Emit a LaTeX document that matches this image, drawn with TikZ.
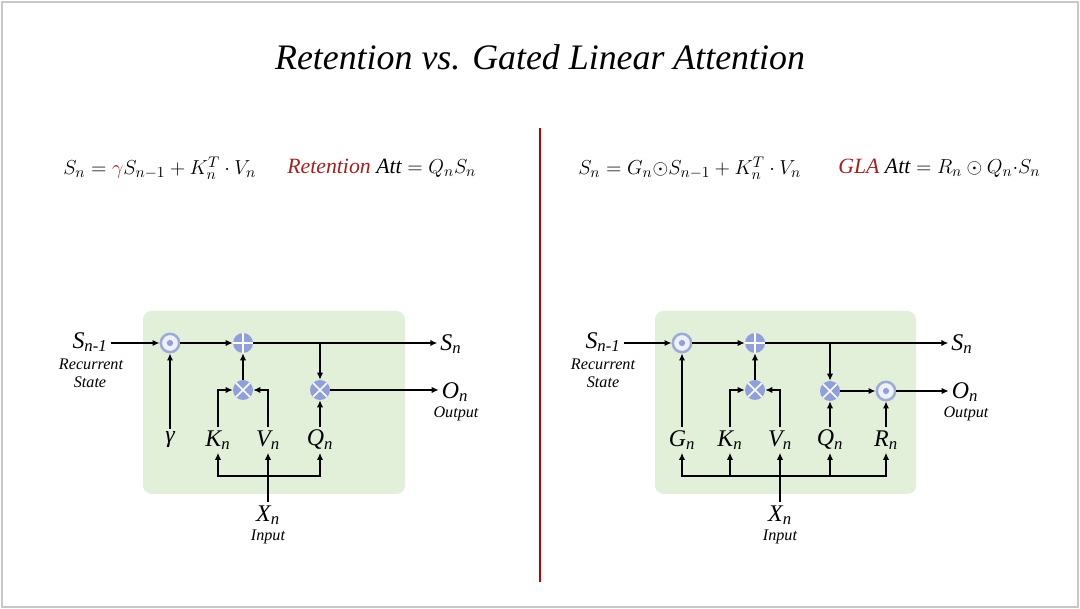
\documentclass[tikz,border=0pt]{standalone}
\usepackage{fontspec}
\setmainfont{Liberation Serif}
\usetikzlibrary{arrows.meta,calc,positioning}
\definecolor{panelF}{HTML}{E2F0D9}
\definecolor{opF}{HTML}{8FA0DC}
\definecolor{ringD}{HTML}{9DAAD8}
\definecolor{ringF}{HTML}{EEF1FA}
\definecolor{divC}{HTML}{C00000}
\definecolor{eqRed}{HTML}{A3201F}
\definecolor{frameC}{HTML}{C8C8C8}
\tikzset{
  panel/.style={fill=panelF, draw=none, rounded corners=6pt},
  op/.style={circle, inner sep=0pt, minimum size=0.5cm, fill=opF},
  plusop/.style={op, path picture={\draw[white, line width=1.2pt]
      (path picture bounding box.north) -- (path picture bounding box.south)
      (path picture bounding box.west) -- (path picture bounding box.east);}},
  timesop/.style={op, path picture={\draw[white, line width=1.2pt]
      (path picture bounding box.north west) -- (path picture bounding box.south east)
      (path picture bounding box.north east) -- (path picture bounding box.south west);}},
  dotop/.style={circle, inner sep=0pt, minimum size=0.46cm, fill=ringF, draw=ringD, line width=1.8pt,
      path picture={\fill[opF] (path picture bounding box.center) circle (2.2pt);}},
  arr/.style={-{Latex[length=5pt,width=4.5pt]}, line width=1pt},
  lab/.style={font=\fontsize{17}{19}\selectfont\itshape, inner sep=2pt},
  small/.style={font=\fontsize{11.5}{13}\selectfont\itshape, inner sep=1pt},
  eq/.style={font=\fontsize{15.5}{18}\selectfont, anchor=west, inner sep=0pt},
}
\newcommand\ix[2]{#1\textsubscript{#2}}

\begin{document}
\begin{tikzpicture}[x=0.025cm, y=-0.025cm]
\useasboundingbox (0,0) rectangle (1080,609);
\draw[frameC, line width=2pt] (2,2) rectangle (1078,607);
\node[font=\fontsize{25.5}{30}\selectfont\itshape] (title) at (540,57) {Retention vs. Gated Linear Attention};
\draw[divC, line width=1pt] (540,128) -- (540,582);
% formulas
\node[eq] (eqL1) at (63,168) {$S_n = {\color{eqRed}\gamma} S_{n-1} + K_n^{T}\cdot V_n$};
\node[eq] (eqL2) at (287,168) {{\color{eqRed}\textit{Retention}} $\mathit{Att} = Q_n S_n$};
\node[eq] (eqR1) at (578,168) {$S_n = G_n{\odot}S_{n-1} + K_n^{T}\cdot V_n$};
\node[eq] (eqR2) at (838,168) {{\color{eqRed}\textit{GLA}} $\mathit{Att} = R_n\odot Q_n{\cdot}S_n$};
% retention
\fill[panel] (143,311) rectangle (405,494);
\node[lab] (sL) at (90,342) {\ix{S}{n-1}};
\node[small] (recL) at (91,364) {Recurrent};
\node[small] (stL) at (90,382) {State};
\node[dotop] (dotL) at (170,343) {};
\node[plusop] (plusL) at (243,343) {};
\node[timesop] (kvL) at (243,390) {};
\node[timesop] (qoL) at (320,390) {};
\node[lab] (gamL) at (170,440) {γ};
\node[lab] (kL) at (218,440) {\ix{K}{n}};
\node[lab] (vL) at (268,440) {\ix{V}{n}};
\node[lab] (qL) at (320,440) {\ix{Q}{n}};
\node[lab] (xL) at (268,515) {\ix{X}{n}};
\node[small] (inL) at (268,537) {Input};
\node[lab] (snL) at (451,344) {\ix{S}{n}};
\node[lab] (onL) at (455,392) {\ix{O}{n}};
\node[small] (outL) at (456,414) {Output};
\coordinate (busL) at (268,476);
\draw[arr] (sL.east |- dotL) -- (dotL);
\draw[arr] (dotL) -- (plusL);
\draw[arr] (plusL) -- (plusL -| snL.west);
\draw[arr] (plusL -| qoL) -- (qoL);
\draw[arr] (qoL) -- (qoL -| onL.west);
\draw[arr] (gamL) -- (dotL);
\draw[arr] (kL) |- (kvL);
\draw[arr] (vL) |- (kvL);
\draw[arr] (kvL) -- (plusL);
\draw[arr] (qL) -- (qoL);
\draw[arr] (xL) -- (vL);
\draw[arr] (busL) -| (kL);
\draw[arr] (busL) -| (qL);
% gated linear attention
\fill[panel] (655,311) rectangle (916,494);
\node[lab] (sR) at (603,342) {\ix{S}{n-1}};
\node[small] (recR) at (603,364) {Recurrent};
\node[small] (stR) at (603,382) {State};
\node[dotop] (dotR) at (682,343) {};
\node[plusop] (plusR) at (755,343) {};
\node[timesop] (kvR) at (755,390) {};
\node[timesop] (qoR) at (830,391) {};
\node[dotop] (rdotR) at (886,391) {};
\node[lab] (gR) at (682,440) {\ix{G}{n}};
\node[lab] (kR) at (730,440) {\ix{K}{n}};
\node[lab] (vR) at (780,440) {\ix{V}{n}};
\node[lab] (qR) at (830,440) {\ix{Q}{n}};
\node[lab] (rR) at (886,440) {\ix{R}{n}};
\node[lab] (xR) at (780,515) {\ix{X}{n}};
\node[small] (inR) at (780,537) {Input};
\node[lab] (snR) at (962,344) {\ix{S}{n}};
\node[lab] (onR) at (965,392) {\ix{O}{n}};
\node[small] (outR) at (966,414) {Output};
\coordinate (busR) at (780,476);
\draw[arr] (sR.east |- dotR) -- (dotR);
\draw[arr] (dotR) -- (plusR);
\draw[arr] (plusR) -- (plusR -| snR.west);
\draw[arr] (plusR -| qoR) -- (qoR);
\draw[arr] (qoR) -- (rdotR);
\draw[arr] (rdotR) -- (rdotR -| onR.west);
\draw[arr] (gR) -- (dotR);
\draw[arr] (kR) |- (kvR);
\draw[arr] (vR) |- (kvR);
\draw[arr] (kvR) -- (plusR);
\draw[arr] (qR) -- (qoR);
\draw[arr] (rR) -- (rdotR);
\draw[arr] (xR) -- (vR);
\draw[arr] (busR) -| (gR);
\draw[arr] (busR) -| (kR);
\draw[arr] (busR) -| (qR);
\draw[arr] (busR) -| (rR);
\end{tikzpicture}
\end{document}
